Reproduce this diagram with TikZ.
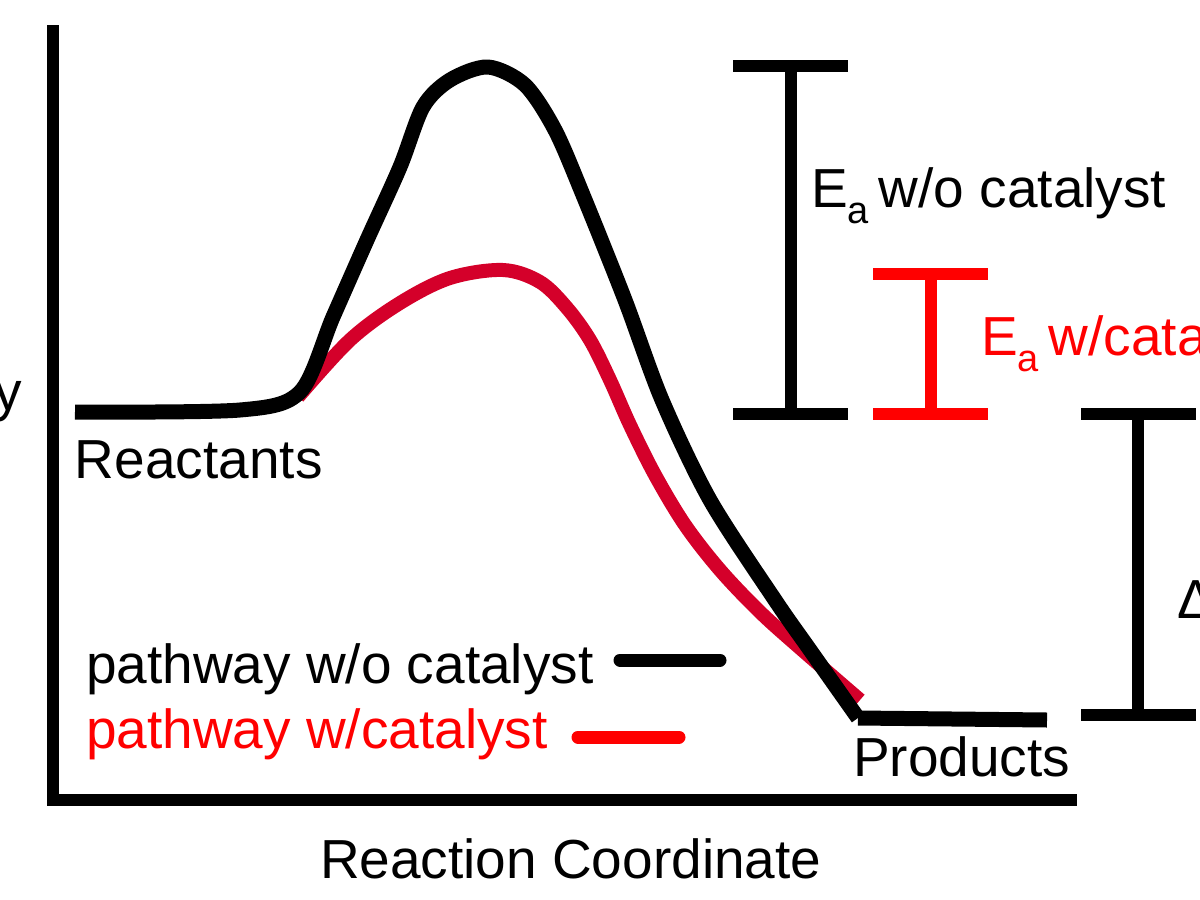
\documentclass[tikz,border=0pt]{standalone}
\usepackage{fontspec}
\setmainfont{Liberation Sans}
\definecolor{crimsonc}{RGB}{212,0,42}
\definecolor{barred}{RGB}{255,0,0}
\begin{document}
\begin{tikzpicture}[x=0.5pt,y=-0.5pt,
  lbl/.style={inner sep=0pt,outer sep=0pt,font=\fontsize{27.5}{33}\selectfont},
  axisline/.style={line width=6pt,black},
  blackpath/.style={line width=7.5pt,black,line join=round},
  redpath/.style={line width=7pt,crimsonc,line join=round},
  barblack/.style={line width=6pt,black},
  barredst/.style={line width=6pt,barred},
  legline/.style={line width=6.5pt,line cap=round}]
\useasboundingbox (0,0) rectangle (1200,900);
\clip (0,0) rectangle (1200,900);
\fill[white] (0,0) rectangle (1200,900);

% axes
\coordinate (ytop) at (53,25);
\coordinate (origin) at (53,800);
\coordinate (xend) at (1077,800);
\draw[axisline] (ytop) -- (origin) -- (xend);

% red pathway (with catalyst)
\draw[redpath] plot[smooth,tension=0.55] coordinates {
 (298,397) (350,340) (400,303) (450,278) (503,270) (540,282) (567,308)
 (590,340) (610,380) (630,425) (655,475) (685,525) (720,570) (760,612)
 (800,648) (860,700)};

% black pathway (without catalyst)
\draw[blackpath] plot[smooth,tension=0.5] coordinates {
 (75,412) (240,410) (300,392) (333,317) (367,240) (400,167) (423,107)
 (450,80) (488,67) (525,85) (555,130) (583,195) (625,300) (662,400)
 (710,500) (775,600) (810,650) (858,718)};
\draw[blackpath] (858,718) -- (1047,720);

% Ea without catalyst bar
\coordinate (eaTop) at (791,66);
\coordinate (eaBot) at (791,414);
\draw[barblack] ([xshift=-29pt]eaTop) -- ([xshift=28.5pt]eaTop);
\draw[barblack] ([xshift=-29pt]eaBot) -- ([xshift=28.5pt]eaBot);
\draw[barblack] (eaTop) -- (eaBot);

% Ea with catalyst bar
\coordinate (ecTop) at (931,274);
\coordinate (ecBot) at (931,414);
\draw[barredst] ([xshift=-29pt]ecTop) -- ([xshift=28.5pt]ecTop);
\draw[barredst] ([xshift=-29pt]ecBot) -- ([xshift=28.5pt]ecBot);
\draw[barredst] (ecTop) -- (ecBot);

% Delta H bar
\coordinate (dhTop) at (1138,414);
\coordinate (dhBot) at (1138,715);
\draw[barblack] ([xshift=-28.5pt]dhTop) -- ([xshift=29pt]dhTop);
\draw[barblack] ([xshift=-28.5pt]dhBot) -- ([xshift=29pt]dhBot);
\draw[barblack] (dhTop) -- (dhBot);

% labels
\node[lbl,anchor=base east] (energy) at (22,410) {Energy};
\node[lbl,anchor=base west] (reactants) at (75,478) {Reactants};
\node[lbl,anchor=base west] (products) at (853,776) {Products};
\node[lbl,anchor=base west] (rc) at (320,878) {Reaction Coordinate};
\node[lbl,anchor=base west] (eawo) at (811,207) {E\raisebox{-8pt}{\fontsize{19}{20}\selectfont a}\hspace{5pt}w/o catalyst};
\node[lbl,anchor=base west,text=barred] (eaw) at (981,355) {E\raisebox{-8pt}{\fontsize{19}{20}\selectfont a}\hspace{5pt}w/catalyst};
\node[lbl,anchor=base west] (dh) at (1177,618) {ΔH};

% legend
\node[lbl,anchor=base west] (legwo) at (86,683) {pathway w/o catalyst};
\node[lbl,anchor=base west,text=barred] (legw) at (86,748) {pathway w/catalyst};
\coordinate (lwoA) at (620,660);
\coordinate (lwoB) at (720,660);
\coordinate (lwA) at (578,737);
\coordinate (lwB) at (679,737);
\draw[legline,black] (lwoA) -- (lwoB);
\draw[legline,barred] (lwA) -- (lwB);
\end{tikzpicture}
\end{document}
